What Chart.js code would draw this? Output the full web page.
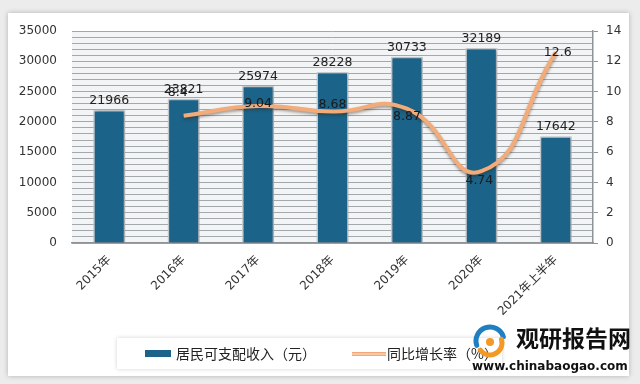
<!DOCTYPE html>
<html><head><meta charset="utf-8">
<script src="https://cdn.jsdelivr.net/npm/chart.js@4"></script>
<style>html,body{margin:0;padding:0;background:#ececec;}#c{display:block;}</style>
</head><body>
<canvas id="c" width="640" height="384"></canvas>
<script>
const categories = ['2015年','2016年','2017年','2018年','2019年','2020年','2021年上半年'];
const income = [21966, 23821, 25974, 28228, 30733, 32189, 17642];
const growth = [null, 8.4, 9.04, 8.68, 8.87, 4.74, 12.6];
const incomeLabel = '居民可支配收入（元）';
const growthLabel = '同比增长率（%）';
const leftTicks = [0, 5000, 10000, 15000, 20000, 25000, 30000, 35000];
const rightTicks = [0, 2, 4, 6, 8, 10, 12, 14];

const growthLabelOffsets = [[0,0], [-6,-23], [0,-2], [0,-7], [0,8], [-2,10], [2,1]];
const FONT = '"DejaVu Sans", "Noto Sans CJK SC", sans-serif';
const CJK = '"Noto Sans CJK SC", "DejaVu Sans", sans-serif';

const framePlugin = {
  id: 'frame',
  beforeDraw(chart) {
    const ctx = chart.ctx;
    ctx.save();
    ctx.fillStyle = '#ececec';
    ctx.fillRect(0, 0, 640, 384);
    ctx.shadowColor = 'rgba(0,0,0,0.25)';
    ctx.shadowBlur = 5;
    ctx.fillStyle = '#ffffff';
    ctx.fillRect(8, 13, 621, 363);
    ctx.restore();
    const a = chart.chartArea;
    ctx.save();
    ctx.fillStyle = '#f2f4f6';
    ctx.fillRect(a.left, a.top, a.right - a.left, a.bottom - a.top);
    ctx.restore();
  },
  beforeDatasetDraw(chart, args) {
    const ctx = chart.ctx;
    ctx.save();
    if (args.index === 0) {
      ctx.shadowColor = 'rgba(0,0,0,0.3)';
      ctx.shadowBlur = 3;
      ctx.shadowOffsetX = 1;
      ctx.shadowOffsetY = 1;
    } else {
      ctx.shadowColor = 'rgba(60,40,20,0.45)';
      ctx.shadowBlur = 3;
      ctx.shadowOffsetY = 2;
    }
  },
  afterDatasetDraw(chart, args) {
    chart.ctx.restore();
  },
  afterDatasetsDraw(chart) {
    const ctx = chart.ctx;
    ctx.save();
    ctx.fillStyle = '#222';
    ctx.font = '12.5px ' + FONT;
    ctx.textAlign = 'center';
    ctx.textBaseline = 'bottom';
    chart.getDatasetMeta(0).data.forEach((el, i) => {
      ctx.fillText(String(income[i]), el.x, el.y - 3);
    });
    ctx.textBaseline = 'middle';
    ctx.fillStyle = '#1a1a1a';
    chart.getDatasetMeta(1).data.forEach((el, i) => {
      if (growth[i] === null) return;
      const o = growthLabelOffsets[i];
      ctx.fillText(String(growth[i]), el.x + o[0], el.y + o[1]);
    });
    ctx.restore();
  },
  afterDraw(chart) {
    const ctx = chart.ctx;
    ctx.save();
    // legend box
    ctx.shadowColor = 'rgba(0,0,0,0.18)';
    ctx.shadowBlur = 4;
    ctx.fillStyle = '#ffffff';
    ctx.fillRect(117, 338, 385, 31);
    ctx.shadowColor = 'transparent';
    ctx.fillStyle = '#1b6388';
    ctx.fillRect(145, 350, 26, 7);
    ctx.fillStyle = '#222';
    ctx.font = '14px ' + CJK;
    ctx.textBaseline = 'middle';
    ctx.textAlign = 'left';
    ctx.fillText(incomeLabel, 176, 354);
    ctx.strokeStyle = '#f2a877';
    ctx.lineWidth = 4;
    ctx.beginPath(); ctx.moveTo(352, 354); ctx.lineTo(386, 354); ctx.stroke();
    ctx.strokeStyle = '#fbd3b3';
    ctx.lineWidth = 1.5;
    ctx.beginPath(); ctx.moveTo(352, 354); ctx.lineTo(386, 354); ctx.stroke();
    ctx.fillStyle = '#222';
    ctx.fillText(growthLabel, 387, 354);
    // watermark logo
    ctx.lineCap = 'round';
    ctx.lineWidth = 5;
    ctx.strokeStyle = '#1f7fc0';
    ctx.beginPath(); ctx.arc(490, 341, 14, Math.PI * 0.9, Math.PI * 1.9); ctx.stroke();
    ctx.strokeStyle = '#f29a25';
    ctx.beginPath(); ctx.arc(490, 343, 12, Math.PI * -0.1, Math.PI * 0.8); ctx.stroke();
    ctx.fillStyle = '#f29a25';
    ctx.beginPath(); ctx.arc(490, 342, 4, 0, Math.PI * 2); ctx.fill();
    ctx.fillStyle = '#111';
    ctx.font = 'bold 23px ' + CJK;
    ctx.textAlign = 'left';
    ctx.fillText('观研报告网', 516, 338);
    ctx.font = 'bold 12px "DejaVu Sans", sans-serif';
    ctx.fillText('www.chinabaogao.com', 472, 367);
    ctx.restore();
  }
};

new Chart(document.getElementById('c'), {
  type: 'bar',
  data: {
    labels: categories,
    datasets: [
      {
        type: 'bar', label: incomeLabel, data: income, yAxisID: 'y',
        backgroundColor: '#1b6388', borderColor: '#c7ccd1', borderWidth: 1.5,
        categoryPercentage: 1, barPercentage: 0.43, order: 2
      },
      {
        type: 'line', label: growthLabel, data: growth, yAxisID: 'y1',
        borderColor: '#f3ab7a', borderWidth: 4, pointRadius: 0, tension: 0.5,
        fill: false, order: 1
      }
    ]
  },
  plugins: [framePlugin],
  options: {
    responsive: false, animation: false,
    layout: { padding: { top: 31, left: 0, right: 0, bottom: 0 } },
    plugins: { legend: { display: false }, tooltip: { enabled: false } },
    scales: {
      x: {
        grid: { display: false, drawTicks: false },
        border: { display: true, color: '#8e9398', width: 1.5 },
        ticks: { color: '#333', font: { size: 12, family: FONT }, minRotation: 45, maxRotation: 45, padding: 10, autoSkip: false },
        afterFit(s) { s.height = 141; }
      },
      y: {
        position: 'left', min: 0, max: 35000,
        grid: { color: '#a3a8ad', lineWidth: 1, drawTicks: false },
        border: { display: false },
        ticks: {
          stepSize: 1000, autoSkip: false, maxTicksLimit: 100, padding: 15,
          color: '#333', font: { size: 12, family: FONT },
          callback: (v) => leftTicks.includes(v) ? String(v) : ''
        },
        afterFit(s) { s.width = 72; }
      },
      y1: {
        position: 'right', min: 0, max: 14,
        grid: { drawOnChartArea: false, color: '#8e9398', tickLength: 5 },
        border: { display: true, color: '#8e9398', width: 1.5 },
        ticks: {
          stepSize: 2, padding: 8, color: '#333', font: { size: 12, family: FONT },
          callback: (v) => rightTicks.includes(v) ? String(v) : ''
        },
        afterFit(s) { s.width = 47; }
      }
    }
  }
});
</script>
</body></html>
